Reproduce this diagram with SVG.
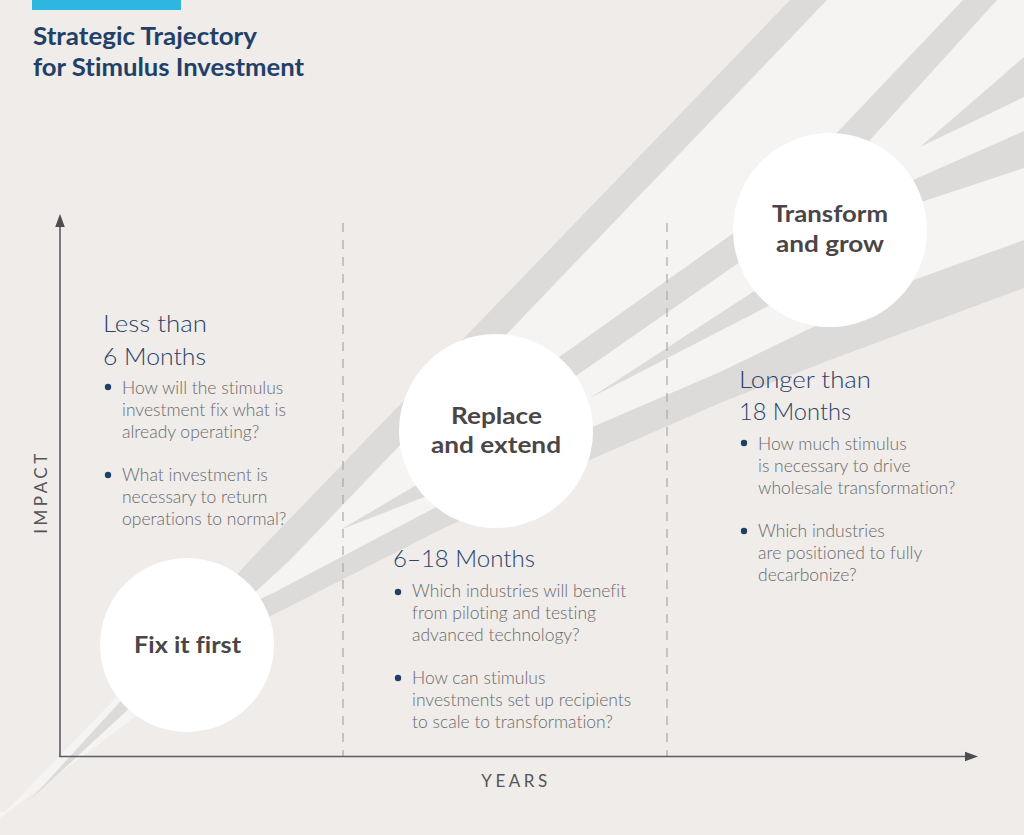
<svg xmlns="http://www.w3.org/2000/svg" width="1024" height="835" viewBox="0 0 1024 835">
<style>
text{font-variant-ligatures:none}
.bg{fill:#efece9}
.fan{fill:#f5f4f2}
.band{fill:#dcdbd9}
.circle{fill:#ffffff}
.clabel{font-family:Lato,"Liberation Sans",sans-serif;font-weight:700;font-size:23px;fill:#4a4648;text-anchor:middle}
.title{font-family:Lato,"Liberation Sans",sans-serif;font-weight:700;font-size:24px;fill:#223f68}
.head{font-family:Lato,"Liberation Sans",sans-serif;font-weight:300;font-size:23px;fill:#2a4369}
.body{font-family:Lato,"Liberation Sans",sans-serif;font-weight:300;font-size:17.5px;fill:#6a6a6c}
.dot{fill:#223f68}
.axis{stroke:#5c5c66;stroke-width:1.6;fill:none}
.arrow{fill:#4c4c52}
.dash{stroke:#a8a8a8;stroke-width:1.2;stroke-dasharray:9 8;fill:none}
.axlabel{font-family:Lato,"Liberation Sans",sans-serif;font-weight:400;font-size:17px;fill:#555558;letter-spacing:3.5px;text-anchor:middle}
</style>
<rect class="bg" x="0" y="0" width="1024" height="835"/>
<rect x="32" y="0" width="149" height="10" fill="#2cb6e0"/>
<g id="rays">
<path class="fan" d="M790 0 L1024 0 L1024 288 L830 360 L720 403 L590 460 L440 530 L267 618 L0 818 L0 812 L5 812 L250 560 Z"/>
<path class="band" d="M790 0 L827 0 L290 560 L30 800 L250 560 Z"/>
<path class="band" d="M963 0 L997 0 L870 140 L740 262 L570 380 L555 360 L735 232 L830 140 Z"/>
<path class="band" d="M1024 57 L1024 97 L920 147 Z"/>
<path class="band" d="M1024 131 L1024 168 L870 219 L870 199 Z"/>
<path class="band" d="M590 398 L762 286 L772 304 Z"/>
<path class="band" d="M340 530 L425 480 L432 494 Z"/>
<path class="band" d="M1024 240 L900 285 L720 372 L590 428 L440 505 L275 592 L215 620 L215 630 L267 618 L440 530 L590 460 L720 403 L830 360 L1024 288 Z"/>
</g>
<g id="connectors">
<line class="dash" x1="343" y1="223" x2="343" y2="756"/>
<line class="dash" x1="667" y1="223" x2="667" y2="756"/>
<line class="axis" x1="60" y1="757" x2="60" y2="224"/>
<path class="arrow" d="M60 214 L64.8 227 L55.2 227 Z"/>
<line class="axis" x1="59" y1="756.5" x2="967" y2="756.5"/>
<path class="arrow" d="M978 756.5 L965 751.7 L965 761.3 Z"/>
</g>
<g id="title">
<text class="title" x="33" y="45" textLength="224" lengthAdjust="spacingAndGlyphs">Strategic Trajectory</text>
<text class="title" x="33" y="76" textLength="271" lengthAdjust="spacingAndGlyphs">for Stimulus Investment</text>
</g>
<g id="axis-labels">
<text class="axlabel" transform="translate(47 492) rotate(-90)">IMPACT</text>
<text class="axlabel" x="516" y="787">YEARS</text>
</g>
<g id="node-fix">
<circle class="circle" cx="187" cy="645" r="87"/>
<text class="clabel" x="187.5" y="653" textLength="107" lengthAdjust="spacingAndGlyphs">Fix it first</text>
</g>
<g id="node-replace">
<circle class="circle" cx="496" cy="431" r="97"/>
<text class="clabel" x="496.5" y="424" textLength="91" lengthAdjust="spacingAndGlyphs">Replace</text>
<text class="clabel" x="496" y="453" textLength="130" lengthAdjust="spacingAndGlyphs">and extend</text>
</g>
<g id="node-transform">
<circle class="circle" cx="830" cy="230" r="97"/>
<text class="clabel" x="830" y="222" textLength="116" lengthAdjust="spacingAndGlyphs">Transform</text>
<text class="clabel" x="830" y="252" textLength="108" lengthAdjust="spacingAndGlyphs">and grow</text>
</g>
<g id="block-short">
<text class="head" x="103" y="332" textLength="104" lengthAdjust="spacingAndGlyphs">Less than</text>
<text class="head" x="103" y="365" textLength="103" lengthAdjust="spacingAndGlyphs">6 Months</text>
<circle class="dot" cx="108" cy="387" r="3.2"/>
<text class="body" x="122" y="394">How will the stimulus</text>
<text class="body" x="122" y="416">investment fix what is</text>
<text class="body" x="122" y="438">already operating?</text>
<circle class="dot" cx="108" cy="475" r="3.2"/>
<text class="body" x="122" y="481">What investment is</text>
<text class="body" x="122" y="503">necessary to return</text>
<text class="body" x="122" y="525">operations to normal?</text>
</g>
<g id="block-mid">
<text class="head" x="393" y="567" textLength="142" lengthAdjust="spacingAndGlyphs">6–18 Months</text>
<circle class="dot" cx="398" cy="592" r="3.2"/>
<text class="body" x="412" y="597">Which industries will benefit</text>
<text class="body" x="412" y="619">from piloting and testing</text>
<text class="body" x="412" y="641">advanced technology?</text>
<circle class="dot" cx="398" cy="678" r="3.2"/>
<text class="body" x="412" y="684">How can stimulus</text>
<text class="body" x="412" y="706">investments set up recipients</text>
<text class="body" x="412" y="728">to scale to transformation?</text>
</g>
<g id="block-long">
<text class="head" x="739" y="388" textLength="132" lengthAdjust="spacingAndGlyphs">Longer than</text>
<text class="head" x="739" y="420" textLength="112" lengthAdjust="spacingAndGlyphs">18 Months</text>
<circle class="dot" cx="744" cy="443" r="3.2"/>
<text class="body" x="758" y="450">How much stimulus</text>
<text class="body" x="758" y="472">is necessary to drive</text>
<text class="body" x="758" y="494">wholesale transformation?</text>
<circle class="dot" cx="744" cy="531" r="3.2"/>
<text class="body" x="758" y="537">Which industries</text>
<text class="body" x="758" y="559">are positioned to fully</text>
<text class="body" x="758" y="581">decarbonize?</text>
</g>
</svg>
